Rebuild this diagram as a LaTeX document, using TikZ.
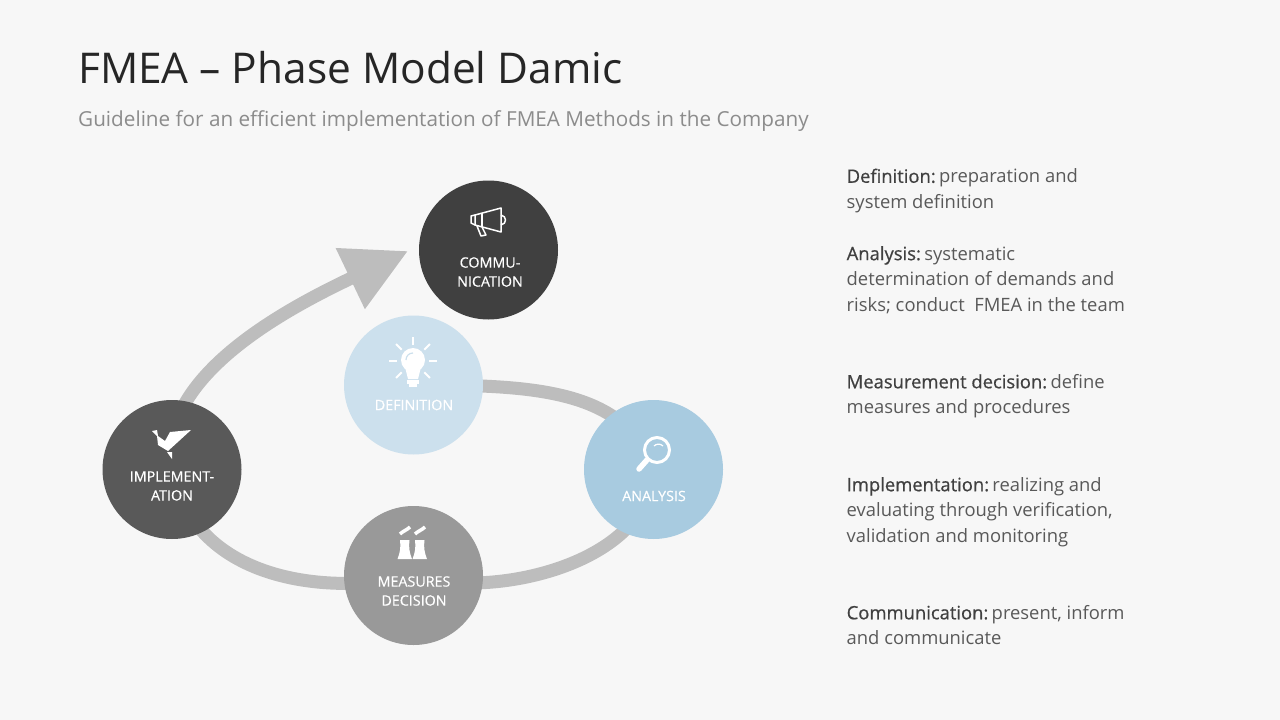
\documentclass[tikz,border=0pt]{standalone}
\usepackage{fontspec}
\setmainfont{Open Sans}
\usetikzlibrary{arrows.meta,backgrounds}
\definecolor{pagebg}{HTML}{F7F7F7}
\definecolor{ringgray}{HTML}{BDBDBD}
\definecolor{commfill}{HTML}{404040}
\definecolor{implfill}{HTML}{595959}
\definecolor{measfill}{HTML}{999999}
\definecolor{deffill}{HTML}{CCE0ED}
\definecolor{anafill}{HTML}{A8CBE0}
\definecolor{bodytext}{HTML}{595959}
\definecolor{boldtext}{HTML}{404040}
\definecolor{headtext}{HTML}{262626}
\definecolor{subtext}{HTML}{8C8C8C}
\tikzset{
  phase/.style={circle,minimum size=139pt,inner sep=0pt,fill=#1},
  phasetext/.style={text=white,align=center,font=\fontsize{14.3}{19}\addfontfeature{FakeBold=0.4}},
  ring/.style={draw=ringgray,line width=13pt},
  note/.style={anchor=north west,align=left,inner sep=0pt,text=bodytext,font=\fontsize{18.4}{25.5}\selectfont},
  icon/.style={fill=white,draw=none},
  iconline/.style={draw=white,line width=1.5pt,line join=round}
}
\newcommand{\notehead}[1]{\textcolor{boldtext}{\addfontfeature{FakeBold=0.7}#1}\hspace{-3pt}}
\begin{document}
\begin{tikzpicture}[x=1pt,y=-1pt]
\useasboundingbox (0,0) rectangle (1280,720);
% title
\node[anchor=base west,inner sep=0pt,text=headtext,font=\fontsize{42.4}{46}\selectfont] (title) at (78,83) {FMEA -- Phase Model Damic};
\node[anchor=base west,inner sep=0pt,text=subtext,font=\fontsize{20.7}{24}\selectfont] (subtitle) at (78,126) {Guideline for an efficient implementation of FMEA Methods in the Company};
% phases
\node[phase=commfill] (comm) at (488.5,250) {};
\node[phase=deffill] (def) at (413.5,385) {};
\node[phase=anafill] (ana) at (653.5,469.5) {};
\node[phase=measfill] (meas) at (413.5,575.5) {};
\node[phase=implfill] (impl) at (172,469.5) {};
\coordinate (tip) at (408,251);
\begin{pgfonlayer}{background}
\fill[pagebg] (0,0) rectangle (1280,720);
\draw[ring] (def.center) .. controls (530,385) and (625,388) .. (ana.center);
\draw[ring] (ana.center) .. controls (650,565) and (490,600) .. (meas.center);
\draw[ring] (meas.center) .. controls (335,595) and (195,585) .. (impl.center);
\draw[ring,-{Triangle[length=64pt,width=64pt]}] (impl.center) .. controls (155,375) and (295,305) .. (tip);
\end{pgfonlayer}
% labels
\node[phasetext] (commlabel) at (490,272) {COMMU-\\NICATION};
\node[phasetext] (deflabel) at (414,405) {DEFINITION};
\node[phasetext] (analabel) at (654,496) {ANALYSIS};
\node[phasetext] (measlabel) at (414,591) {MEASURES\\DECISION};
\node[phasetext] (impllabel) at (172,486) {IMPLEMENT-\\ATION};
% megaphone
\draw[iconline] (475,215) -- (501,208) -- (501,232) -- (475,225) -- cycle;
\draw[iconline] (475,215) -- (471,216) -- (471,223) -- (475,225);
\draw[iconline] (482,213) -- (482,227);
\draw[iconline] (501,215) .. controls (507,216) and (507,224) .. (501,225);
\draw[iconline] (477,226) -- (481,236) -- (486,235) -- (482,227);
% bulb
\fill[icon] (413,360) circle (12pt);
\fill[icon] (405,367) -- (421,367) -- (418,379) -- (408,379) -- cycle;
\fill[icon] (407,380) rectangle (419,384);
\fill[icon] (409,384) rectangle (417,387);
\draw[deffill,line width=1.2pt] (406,360) .. controls (406,356) and (409,353) .. (413,353);
\foreach \a in {0,45,90,135,180,225,315} {
  \draw[white,line width=2pt] ([shift={(\a:16pt)}]413,361) -- ([shift={(\a:24pt)}]413,361);
}
% magnifier
\draw[white,line width=3pt] (657,450) circle (12.5pt);
\draw[white,line width=5.5pt,line cap=round] (647,460) -- (639,469);
\draw[white,line width=1.2pt] (654,446) .. controls (656,444) and (660,443) .. (663,446);
% cooling towers
\foreach \dx in {0,15} {
  \fill[icon,shift={(\dx,0)}] (400,540) -- (409.5,540) .. controls (408.5,547) and (409.5,553) .. (412,559) -- (397.5,559) .. controls (400,553) and (401,547) .. (400,540) -- cycle;
  \draw[white,line width=3.5pt,shift={(\dx,0)}] (400,534) .. controls (403,531) and (407,530) .. (410,527);
}
% bird
\fill[icon] (152,431) -- (157,430) -- (158,436) -- (165,441) -- (170,432) -- (191,430) -- (168,451) -- (158,445) -- (157,436) -- cycle;
\fill[icon] (167,452) -- (172,452) -- (172,459) -- cycle;
% notes
\node[note] (notedef) at (846.5,168.5) {\notehead{Definition:} preparation and\\system definition};
\node[note] (noteana) at (846.5,246) {\notehead{Analysis:} systematic\\determination of demands and\\risks; conduct~ FMEA in the team};
\node[note] (notemeas) at (846.5,374) {\notehead{Measurement decision:} define\\measures and procedures};
\node[note] (noteimpl) at (846.5,477) {\notehead{Implementation:} realizing and\\evaluating through verification,\\validation and monitoring};
\node[note] (notecomm) at (846.5,605) {\notehead{Communication:} present, inform\\and communicate};
\end{tikzpicture}
\end{document}
